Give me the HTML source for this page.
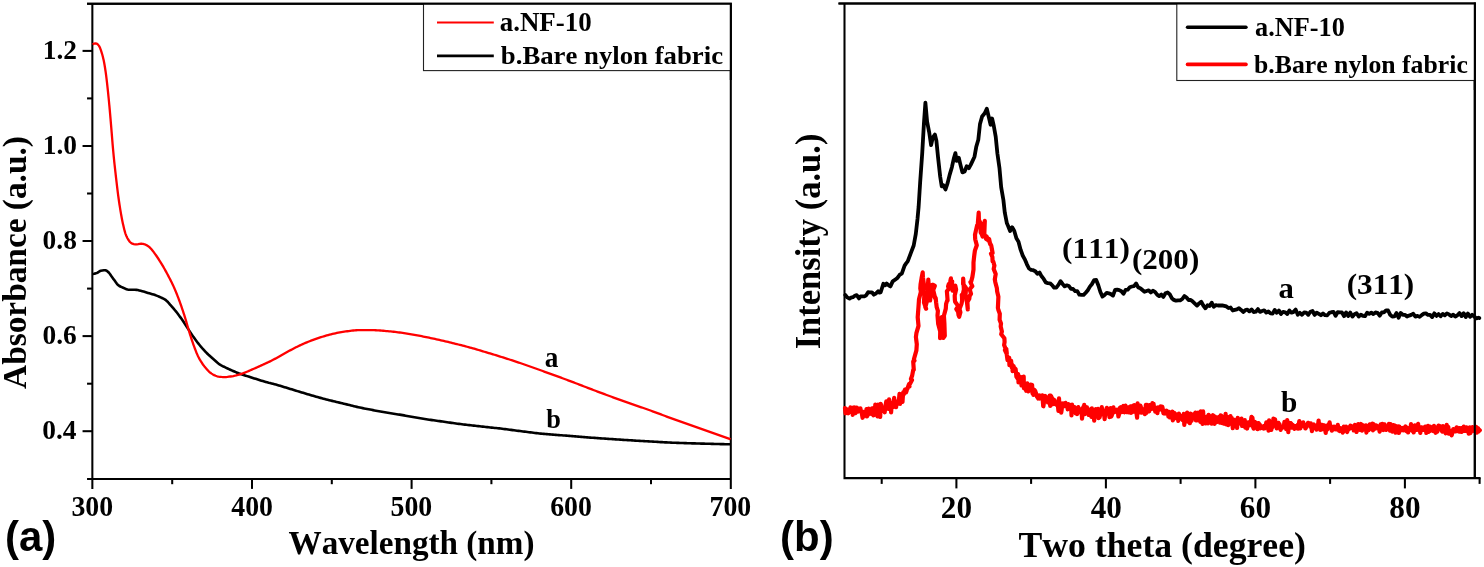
<!DOCTYPE html>
<html lang="en"><head><meta charset="utf-8"><title>UV-Vis and XRD of NF-10 and bare nylon fabric</title>
<style>html,body{margin:0;padding:0;background:#fff}body{width:1484px;height:567px;overflow:hidden}svg{display:block}</style></head>
<body>
<svg width="1484" height="567" viewBox="0 0 1484 567" style="font-kerning:none">
<rect width="1484" height="567" fill="#fff"/>
<g stroke="#000" stroke-width="2.05" fill="none">
<path d="M87.05,3.65 H731.8249999999999 M87.05,478.9 H730.8 M92.35,2.625 V488.9 M730.8,2.625 V488.9"/>
<path d="M82.55,431.2 H92.35"/>
<path d="M82.55,336.1 H92.35"/>
<path d="M82.55,241.0 H92.35"/>
<path d="M82.55,146.0 H92.35"/>
<path d="M82.55,50.9 H92.35"/>
<path d="M87.05,383.7 H92.35"/>
<path d="M87.05,288.6 H92.35"/>
<path d="M87.05,193.5 H92.35"/>
<path d="M87.05,98.4 H92.35"/>
<path d="M252.0,478.9 V488.9"/>
<path d="M411.6,478.9 V488.9"/>
<path d="M571.2,478.9 V488.9"/>
<path d="M172.2,478.9 V484.2"/>
<path d="M331.8,478.9 V484.2"/>
<path d="M491.4,478.9 V484.2"/>
<path d="M651.0,478.9 V484.2"/>
</g>
<path d="M92.60,274.00 L94.12,273.76 L95.58,273.38 L96.98,272.90 L98.31,272.25 L99.55,271.31 L100.87,270.74 L102.36,270.47 L103.91,270.27 L105.36,270.20 L106.68,270.67 L107.91,271.73 L108.99,272.79 L109.93,273.95 L110.80,275.20 L111.66,276.45 L112.54,277.67 L113.39,278.90 L114.26,280.12 L115.14,281.34 L116.01,282.61 L116.91,283.85 L117.89,284.93 L119.05,285.76 L120.38,286.49 L121.78,287.12 L123.17,287.72 L124.56,288.36 L125.97,289.01 L127.39,289.52 L128.84,289.79 L130.31,289.80 L131.81,289.80 L133.32,289.80 L134.83,289.80 L136.32,289.83 L137.80,290.04 L139.27,290.39 L140.73,290.79 L142.18,291.17 L143.63,291.56 L145.07,291.99 L146.50,292.44 L147.93,292.89 L149.37,293.32 L150.82,293.73 L152.26,294.15 L153.69,294.60 L155.11,295.08 L156.51,295.60 L157.91,296.15 L159.30,296.73 L160.66,297.34 L162.03,297.98 L163.40,298.64 L164.73,299.36 L165.93,300.18 L167.03,301.15 L168.06,302.25 L169.05,303.41 L170.04,304.57 L171.04,305.69 L172.04,306.81 L173.03,307.94 L174.01,309.07 L174.97,310.22 L175.92,311.39 L176.85,312.57 L177.76,313.75 L178.67,314.95 L179.56,316.16 L180.44,317.37 L181.31,318.59 L182.17,319.82 L183.01,321.06 L183.84,322.32 L184.65,323.58 L185.46,324.84 L186.27,326.10 L187.09,327.36 L187.91,328.62 L188.74,329.87 L189.56,331.12 L190.39,332.37 L191.22,333.63 L192.06,334.87 L192.90,336.11 L193.76,337.34 L194.63,338.56 L195.51,339.77 L196.41,340.98 L197.31,342.18 L198.23,343.37 L199.16,344.54 L200.11,345.71 L201.07,346.85 L202.04,347.99 L203.04,349.12 L204.05,350.23 L205.07,351.33 L206.11,352.41 L207.17,353.47 L208.25,354.51 L209.35,355.52 L210.47,356.52 L211.60,357.52 L212.73,358.50 L213.86,359.49 L214.98,360.51 L216.10,361.53 L217.23,362.53 L218.39,363.47 L219.59,364.33 L220.85,365.11 L222.15,365.84 L223.48,366.53 L224.84,367.19 L226.21,367.83 L227.58,368.46 L228.95,369.08 L230.31,369.72 L231.68,370.34 L233.05,370.96 L234.42,371.56 L235.80,372.15 L237.19,372.71 L238.59,373.26 L239.99,373.77 L241.41,374.27 L242.83,374.74 L244.26,375.21 L245.69,375.66 L247.12,376.12 L248.55,376.58 L249.98,377.04 L251.40,377.50 L252.83,377.95 L254.27,378.40 L255.70,378.85 L257.13,379.29 L258.56,379.74 L259.99,380.19 L261.42,380.64 L262.86,381.09 L264.29,381.53 L265.73,381.96 L267.17,382.36 L268.62,382.75 L270.08,383.10 L271.54,383.45 L272.99,383.81 L274.44,384.19 L275.89,384.59 L277.33,385.00 L278.77,385.43 L280.21,385.86 L281.64,386.29 L283.08,386.73 L284.51,387.17 L285.95,387.61 L287.38,388.05 L288.82,388.49 L290.25,388.92 L291.69,389.36 L293.12,389.80 L294.55,390.24 L295.99,390.68 L297.42,391.12 L298.86,391.56 L300.29,391.99 L301.73,392.43 L303.16,392.86 L304.60,393.29 L306.04,393.73 L307.47,394.16 L308.91,394.59 L310.35,395.02 L311.79,395.45 L313.23,395.87 L314.67,396.28 L316.11,396.69 L317.55,397.09 L319.00,397.49 L320.45,397.88 L321.90,398.26 L323.35,398.64 L324.80,399.02 L326.25,399.40 L327.71,399.77 L329.16,400.14 L330.62,400.50 L332.07,400.87 L333.53,401.22 L334.99,401.58 L336.44,401.93 L337.90,402.28 L339.36,402.63 L340.82,402.97 L342.28,403.32 L343.74,403.67 L345.20,404.02 L346.66,404.38 L348.11,404.74 L349.57,405.10 L351.02,405.46 L352.48,405.82 L353.94,406.18 L355.40,406.53 L356.86,406.87 L358.32,407.19 L359.79,407.51 L361.25,407.82 L362.72,408.12 L364.19,408.42 L365.66,408.71 L367.14,409.00 L368.61,409.28 L370.08,409.56 L371.56,409.84 L373.03,410.13 L374.50,410.41 L375.98,410.69 L377.45,410.97 L378.93,411.25 L380.40,411.52 L381.88,411.80 L383.35,412.06 L384.83,412.33 L386.31,412.58 L387.78,412.83 L389.27,413.07 L390.75,413.30 L392.23,413.53 L393.71,413.75 L395.20,413.97 L396.68,414.19 L398.16,414.42 L399.65,414.65 L401.13,414.89 L402.61,415.14 L404.08,415.39 L405.56,415.66 L407.04,415.92 L408.51,416.19 L409.99,416.46 L411.47,416.73 L412.94,416.99 L414.42,417.25 L415.90,417.50 L417.38,417.75 L418.86,418.00 L420.34,418.25 L421.82,418.49 L423.30,418.74 L424.78,418.98 L426.26,419.21 L427.74,419.45 L429.22,419.67 L430.71,419.90 L432.19,420.11 L433.67,420.33 L435.16,420.54 L436.64,420.74 L438.13,420.95 L439.62,421.16 L441.10,421.36 L442.59,421.57 L444.07,421.78 L445.56,421.99 L447.04,422.21 L448.53,422.43 L450.01,422.64 L451.50,422.86 L452.98,423.07 L454.47,423.28 L455.95,423.48 L457.44,423.68 L458.93,423.87 L460.41,424.06 L461.90,424.24 L463.39,424.42 L464.88,424.60 L466.37,424.78 L467.86,424.95 L469.35,425.13 L470.84,425.30 L472.33,425.47 L473.82,425.65 L475.31,425.82 L476.80,425.99 L478.29,426.16 L479.78,426.32 L481.27,426.49 L482.76,426.65 L484.26,426.82 L485.75,426.98 L487.24,427.14 L488.73,427.30 L490.22,427.46 L491.71,427.61 L493.21,427.77 L494.70,427.92 L496.19,428.08 L497.68,428.24 L499.17,428.41 L500.66,428.58 L502.15,428.76 L503.64,428.94 L505.13,429.13 L506.62,429.32 L508.10,429.51 L509.59,429.71 L511.08,429.90 L512.57,430.10 L514.05,430.29 L515.54,430.48 L517.03,430.67 L518.52,430.85 L520.01,431.04 L521.49,431.24 L522.98,431.43 L524.47,431.62 L525.96,431.81 L527.45,432.01 L528.93,432.20 L530.42,432.39 L531.91,432.57 L533.40,432.75 L534.89,432.93 L536.38,433.11 L537.87,433.28 L539.36,433.44 L540.85,433.60 L542.34,433.75 L543.84,433.89 L545.33,434.03 L546.82,434.16 L548.32,434.29 L549.81,434.41 L551.31,434.53 L552.80,434.65 L554.30,434.76 L555.79,434.88 L557.29,434.99 L558.79,435.10 L560.28,435.21 L561.78,435.32 L563.27,435.43 L564.77,435.54 L566.27,435.66 L567.76,435.77 L569.26,435.89 L570.75,436.01 L572.25,436.13 L573.74,436.25 L575.24,436.37 L576.73,436.49 L578.23,436.61 L579.72,436.74 L581.22,436.86 L582.71,436.98 L584.21,437.10 L585.70,437.22 L587.20,437.34 L588.69,437.46 L590.19,437.58 L591.69,437.69 L593.18,437.80 L594.68,437.92 L596.17,438.03 L597.67,438.14 L599.16,438.24 L600.66,438.35 L602.16,438.46 L603.65,438.56 L605.15,438.66 L606.65,438.77 L608.14,438.87 L609.64,438.97 L611.14,439.07 L612.63,439.17 L614.13,439.27 L615.63,439.37 L617.12,439.47 L618.62,439.56 L620.12,439.66 L621.61,439.76 L623.11,439.85 L624.61,439.95 L626.10,440.04 L627.60,440.14 L629.10,440.23 L630.60,440.32 L632.09,440.42 L633.59,440.51 L635.09,440.60 L636.58,440.69 L638.08,440.78 L639.58,440.87 L641.08,440.96 L642.57,441.05 L644.07,441.13 L645.57,441.22 L647.07,441.31 L648.56,441.39 L650.06,441.48 L651.56,441.56 L653.06,441.65 L654.55,441.74 L656.05,441.82 L657.55,441.91 L659.05,442.00 L660.55,442.08 L662.04,442.16 L663.54,442.25 L665.04,442.33 L666.54,442.41 L668.04,442.48 L669.53,442.55 L671.03,442.62 L672.53,442.69 L674.03,442.75 L675.53,442.81 L677.03,442.87 L678.52,442.92 L680.02,442.98 L681.52,443.03 L683.02,443.07 L684.52,443.12 L686.02,443.17 L687.52,443.21 L689.02,443.26 L690.52,443.30 L692.02,443.34 L693.52,443.38 L695.02,443.42 L696.52,443.46 L698.02,443.50 L699.52,443.54 L701.02,443.58 L702.51,443.62 L704.01,443.66 L705.51,443.70 L707.01,443.74 L708.51,443.78 L710.01,443.82 L711.51,443.86 L713.01,443.90 L714.51,443.93 L716.01,443.97 L717.51,444.01 L719.01,444.04 L720.51,444.08 L722.01,444.11 L723.51,444.15 L725.01,444.18 L726.51,444.21 L728.01,444.25 L729.51,444.28 L730.50,444.30" stroke="#000" stroke-width="2.6" fill="none" stroke-linejoin="round"/>
<path d="M92.60,44.40 L94.10,43.59 L95.49,43.31 L96.78,43.57 L98.01,44.63 L98.99,45.88 L99.70,47.12 L100.28,48.52 L100.79,49.98 L101.28,51.42 L101.74,52.85 L102.18,54.28 L102.59,55.73 L102.97,57.19 L103.31,58.64 L103.63,60.11 L103.93,61.57 L104.21,63.05 L104.48,64.53 L104.74,66.01 L104.98,67.49 L105.21,68.97 L105.44,70.45 L105.65,71.94 L105.86,73.42 L106.06,74.91 L106.25,76.40 L106.44,77.88 L106.62,79.37 L106.79,80.86 L106.97,82.36 L107.14,83.85 L107.30,85.34 L107.47,86.83 L107.63,88.32 L107.79,89.81 L107.95,91.30 L108.11,92.79 L108.26,94.29 L108.41,95.78 L108.56,97.27 L108.70,98.76 L108.85,100.26 L108.99,101.75 L109.13,103.24 L109.27,104.74 L109.41,106.23 L109.55,107.73 L109.68,109.22 L109.82,110.71 L109.95,112.21 L110.08,113.70 L110.21,115.20 L110.34,116.69 L110.47,118.18 L110.60,119.68 L110.72,121.17 L110.85,122.67 L110.97,124.16 L111.10,125.66 L111.22,127.15 L111.35,128.65 L111.47,130.14 L111.59,131.64 L111.72,133.13 L111.84,134.63 L111.96,136.12 L112.08,137.62 L112.20,139.11 L112.32,140.61 L112.44,142.10 L112.56,143.60 L112.69,145.09 L112.82,146.59 L112.95,148.08 L113.09,149.58 L113.23,151.07 L113.37,152.56 L113.51,154.06 L113.65,155.55 L113.80,157.04 L113.95,158.53 L114.10,160.03 L114.25,161.52 L114.41,163.01 L114.56,164.50 L114.72,165.99 L114.88,167.49 L115.04,168.98 L115.21,170.47 L115.38,171.96 L115.55,173.45 L115.72,174.94 L115.89,176.43 L116.06,177.92 L116.24,179.41 L116.41,180.90 L116.59,182.39 L116.76,183.88 L116.94,185.37 L117.12,186.86 L117.30,188.35 L117.48,189.84 L117.66,191.33 L117.85,192.81 L118.04,194.30 L118.24,195.79 L118.44,197.27 L118.65,198.76 L118.86,200.24 L119.07,201.73 L119.29,203.21 L119.52,204.70 L119.74,206.18 L119.98,207.66 L120.21,209.14 L120.46,210.62 L120.71,212.10 L120.96,213.58 L121.22,215.06 L121.49,216.53 L121.76,218.01 L122.05,219.48 L122.34,220.95 L122.65,222.42 L122.97,223.89 L123.30,225.35 L123.63,226.81 L123.98,228.28 L124.34,229.74 L124.72,231.20 L125.15,232.63 L125.62,234.04 L126.16,235.45 L126.76,236.86 L127.43,238.22 L128.18,239.50 L129.01,240.73 L129.99,241.98 L131.11,243.03 L132.33,243.68 L133.76,244.15 L135.29,244.45 L136.78,244.46 L138.26,244.21 L139.75,243.88 L141.23,243.70 L142.72,243.83 L144.20,244.22 L145.61,244.70 L146.95,245.36 L148.21,246.21 L149.37,247.14 L150.45,248.18 L151.48,249.30 L152.45,250.44 L153.38,251.62 L154.26,252.83 L155.14,254.05 L156.00,255.28 L156.86,256.51 L157.70,257.76 L158.53,259.01 L159.34,260.27 L160.15,261.53 L160.94,262.80 L161.72,264.08 L162.49,265.37 L163.24,266.67 L163.99,267.97 L164.73,269.28 L165.45,270.59 L166.17,271.91 L166.89,273.23 L167.59,274.55 L168.30,275.87 L169.00,277.20 L169.70,278.53 L170.39,279.86 L171.07,281.20 L171.74,282.55 L172.40,283.90 L173.04,285.25 L173.66,286.61 L174.27,287.98 L174.86,289.35 L175.44,290.74 L176.02,292.12 L176.58,293.51 L177.14,294.91 L177.68,296.31 L178.22,297.71 L178.75,299.12 L179.27,300.52 L179.79,301.93 L180.30,303.34 L180.81,304.75 L181.30,306.17 L181.79,307.58 L182.27,309.01 L182.75,310.43 L183.22,311.86 L183.68,313.28 L184.14,314.71 L184.59,316.14 L185.04,317.57 L185.48,319.01 L185.91,320.44 L186.33,321.88 L186.74,323.33 L187.16,324.77 L187.57,326.21 L187.98,327.65 L188.40,329.09 L188.83,330.53 L189.27,331.96 L189.72,333.39 L190.17,334.83 L190.63,336.26 L191.08,337.69 L191.55,339.11 L192.02,340.54 L192.50,341.96 L192.99,343.38 L193.49,344.79 L194.00,346.20 L194.53,347.60 L195.06,349.01 L195.60,350.42 L196.15,351.82 L196.72,353.22 L197.32,354.60 L197.94,355.96 L198.59,357.30 L199.28,358.61 L200.01,359.92 L200.78,361.21 L201.60,362.48 L202.45,363.74 L203.33,364.97 L204.24,366.16 L205.17,367.32 L206.13,368.46 L207.13,369.61 L208.18,370.74 L209.27,371.81 L210.41,372.79 L211.59,373.63 L212.85,374.39 L214.19,375.12 L215.60,375.77 L217.03,376.26 L218.47,376.56 L219.94,376.77 L221.44,376.94 L222.95,377.06 L224.45,377.10 L225.95,377.05 L227.44,376.92 L228.94,376.73 L230.43,376.51 L231.91,376.28 L233.38,376.03 L234.85,375.73 L236.31,375.37 L237.76,374.97 L239.21,374.55 L240.65,374.10 L242.07,373.65 L243.48,373.15 L244.87,372.61 L246.26,372.04 L247.64,371.44 L249.02,370.84 L250.40,370.23 L251.78,369.64 L253.16,369.05 L254.54,368.46 L255.91,367.87 L257.29,367.26 L258.66,366.66 L260.03,366.04 L261.39,365.42 L262.75,364.79 L264.12,364.16 L265.48,363.53 L266.83,362.89 L268.19,362.24 L269.54,361.59 L270.89,360.93 L272.23,360.26 L273.56,359.58 L274.89,358.89 L276.21,358.18 L277.52,357.45 L278.83,356.71 L280.13,355.96 L281.43,355.21 L282.73,354.46 L284.03,353.71 L285.34,352.97 L286.65,352.24 L287.96,351.53 L289.29,350.82 L290.61,350.12 L291.94,349.42 L293.27,348.72 L294.60,348.03 L295.94,347.34 L297.28,346.67 L298.63,346.01 L299.98,345.36 L301.34,344.73 L302.71,344.12 L304.08,343.52 L305.46,342.93 L306.84,342.36 L308.24,341.79 L309.63,341.23 L311.03,340.69 L312.44,340.16 L313.85,339.64 L315.26,339.13 L316.67,338.64 L318.09,338.16 L319.51,337.68 L320.94,337.20 L322.37,336.74 L323.80,336.29 L325.24,335.85 L326.68,335.43 L328.13,335.03 L329.57,334.65 L331.03,334.30 L332.48,333.95 L333.95,333.61 L335.41,333.28 L336.88,332.97 L338.35,332.67 L339.83,332.38 L341.31,332.12 L342.79,331.88 L344.27,331.66 L345.75,331.46 L347.24,331.25 L348.73,331.05 L350.22,330.85 L351.71,330.67 L353.21,330.51 L354.70,330.37 L356.20,330.27 L357.70,330.21 L359.19,330.20 L360.69,330.20 L362.19,330.20 L363.69,330.20 L365.19,330.20 L366.69,330.20 L368.19,330.20 L369.70,330.20 L371.20,330.20 L372.70,330.20 L374.19,330.21 L375.69,330.26 L377.19,330.33 L378.69,330.42 L380.19,330.52 L381.68,330.64 L383.18,330.77 L384.68,330.90 L386.17,331.03 L387.66,331.16 L389.16,331.29 L390.65,331.43 L392.14,331.59 L393.63,331.75 L395.13,331.93 L396.62,332.11 L398.10,332.30 L399.59,332.49 L401.08,332.68 L402.56,332.89 L404.05,333.10 L405.53,333.33 L407.01,333.57 L408.49,333.81 L409.97,334.06 L411.45,334.32 L412.93,334.58 L414.40,334.84 L415.88,335.10 L417.36,335.38 L418.83,335.66 L420.30,335.94 L421.77,336.23 L423.24,336.53 L424.71,336.83 L426.18,337.13 L427.65,337.44 L429.12,337.74 L430.59,338.05 L432.06,338.36 L433.52,338.67 L434.99,338.99 L436.45,339.31 L437.92,339.64 L439.38,339.96 L440.85,340.29 L442.31,340.63 L443.77,340.96 L445.23,341.30 L446.69,341.64 L448.15,341.99 L449.61,342.34 L451.07,342.69 L452.53,343.04 L453.98,343.40 L455.44,343.76 L456.90,344.12 L458.35,344.49 L459.80,344.86 L461.26,345.23 L462.71,345.60 L464.16,345.98 L465.62,346.36 L467.07,346.74 L468.51,347.13 L469.96,347.52 L471.41,347.92 L472.85,348.32 L474.29,348.73 L475.73,349.15 L477.17,349.58 L478.61,350.00 L480.05,350.43 L481.48,350.87 L482.92,351.30 L484.36,351.74 L485.79,352.17 L487.23,352.60 L488.67,353.03 L490.10,353.47 L491.54,353.90 L492.97,354.34 L494.41,354.77 L495.84,355.21 L497.28,355.65 L498.71,356.10 L500.14,356.54 L501.57,356.99 L503.00,357.44 L504.43,357.89 L505.86,358.34 L507.29,358.80 L508.72,359.26 L510.15,359.72 L511.58,360.18 L513.00,360.64 L514.43,361.11 L515.85,361.58 L517.27,362.06 L518.70,362.54 L520.11,363.02 L521.53,363.51 L522.95,364.00 L524.37,364.49 L525.78,364.99 L527.20,365.49 L528.61,365.99 L530.03,366.49 L531.44,366.99 L532.85,367.49 L534.27,368.00 L535.68,368.51 L537.09,369.01 L538.50,369.52 L539.91,370.03 L541.33,370.53 L542.74,371.04 L544.15,371.55 L545.56,372.06 L546.97,372.57 L548.38,373.08 L549.79,373.59 L551.20,374.10 L552.61,374.61 L554.02,375.12 L555.43,375.64 L556.84,376.15 L558.25,376.67 L559.66,377.19 L561.06,377.70 L562.47,378.22 L563.88,378.74 L565.28,379.27 L566.69,379.79 L568.10,380.31 L569.50,380.84 L570.90,381.36 L572.31,381.89 L573.71,382.43 L575.11,382.96 L576.51,383.50 L577.91,384.04 L579.31,384.57 L580.71,385.11 L582.11,385.65 L583.51,386.20 L584.91,386.74 L586.31,387.28 L587.71,387.82 L589.11,388.35 L590.51,388.89 L591.91,389.43 L593.31,389.96 L594.72,390.49 L596.12,391.02 L597.52,391.55 L598.93,392.08 L600.33,392.60 L601.74,393.13 L603.14,393.66 L604.55,394.18 L605.95,394.71 L607.36,395.23 L608.76,395.75 L610.17,396.27 L611.58,396.79 L612.99,397.31 L614.39,397.83 L615.80,398.35 L617.21,398.86 L618.62,399.37 L620.03,399.88 L621.44,400.39 L622.85,400.90 L624.27,401.40 L625.68,401.90 L627.10,402.40 L628.51,402.89 L629.93,403.38 L631.35,403.87 L632.77,404.36 L634.18,404.85 L635.60,405.34 L637.02,405.82 L638.44,406.31 L639.86,406.80 L641.28,407.29 L642.69,407.78 L644.11,408.27 L645.53,408.77 L646.94,409.27 L648.35,409.78 L649.76,410.28 L651.17,410.79 L652.58,411.31 L653.99,411.83 L655.40,412.35 L656.80,412.87 L658.21,413.39 L659.61,413.92 L661.02,414.44 L662.42,414.97 L663.83,415.50 L665.23,416.02 L666.64,416.55 L668.04,417.07 L669.45,417.59 L670.86,418.11 L672.26,418.63 L673.67,419.15 L675.08,419.66 L676.49,420.17 L677.91,420.67 L679.32,421.18 L680.73,421.68 L682.15,422.18 L683.56,422.68 L684.98,423.18 L686.39,423.67 L687.81,424.17 L689.22,424.67 L690.64,425.16 L692.06,425.66 L693.47,426.15 L694.89,426.64 L696.30,427.14 L697.72,427.64 L699.13,428.13 L700.55,428.63 L701.96,429.13 L703.38,429.63 L704.79,430.13 L706.21,430.63 L707.62,431.12 L709.04,431.62 L710.45,432.12 L711.87,432.62 L713.28,433.12 L714.70,433.62 L716.11,434.12 L717.52,434.62 L718.94,435.12 L720.35,435.62 L721.77,436.12 L723.18,436.62 L724.60,437.11 L726.01,437.61 L727.43,438.11 L728.84,438.61 L730.25,439.11 L730.50,439.20" stroke="#f00" stroke-width="2.3" fill="none" stroke-linejoin="round"/>
<rect x="423.5" y="3.65" width="307.29999999999995" height="66.94999999999999" fill="#fff" stroke="#222" stroke-width="1.1"/>
<path d="M87.05,3.65 H731.8249999999999 M730.8,2.625 V80" stroke="#000" stroke-width="2.05" fill="none"/>
<path d="M437,22.5 H493.8" stroke="#f00" stroke-width="2.2"/>
<path d="M437,55.9 H493.8" stroke="#000" stroke-width="2.6"/>
<text transform="translate(499.69,30.70) scale(0.9976,1)" font-size="27" font-family="Liberation Serif, serif" font-weight="bold" fill="#000">a.NF-10</text>
<text transform="translate(500.83,64.25) scale(1.0217,1)" font-size="26.2" font-family="Liberation Serif, serif" font-weight="bold" fill="#000">b.Bare nylon fabric</text>
<text transform="translate(42.20,439.10) scale(1.0000,1)" font-size="27.4" font-family="Liberation Serif, serif" font-weight="bold" fill="#000">0.4</text>
<text transform="translate(42.47,344.02) scale(1.0000,1)" font-size="27.4" font-family="Liberation Serif, serif" font-weight="bold" fill="#000">0.6</text>
<text transform="translate(42.61,248.94) scale(1.0000,1)" font-size="27.4" font-family="Liberation Serif, serif" font-weight="bold" fill="#000">0.8</text>
<text transform="translate(42.75,153.86) scale(1.0000,1)" font-size="27.4" font-family="Liberation Serif, serif" font-weight="bold" fill="#000">1.0</text>
<text transform="translate(42.75,58.78) scale(1.0000,1)" font-size="27.4" font-family="Liberation Serif, serif" font-weight="bold" fill="#000">1.2</text>
<text transform="translate(71.38,515.75) scale(0.9650,1)" font-size="28.8" font-family="Liberation Serif, serif" font-weight="bold" fill="#000">300</text>
<text transform="translate(231.27,515.75) scale(0.9650,1)" font-size="28.8" font-family="Liberation Serif, serif" font-weight="bold" fill="#000">400</text>
<text transform="translate(390.53,515.75) scale(0.9650,1)" font-size="28.8" font-family="Liberation Serif, serif" font-weight="bold" fill="#000">500</text>
<text transform="translate(550.21,515.75) scale(0.9650,1)" font-size="28.8" font-family="Liberation Serif, serif" font-weight="bold" fill="#000">600</text>
<text transform="translate(709.55,515.75) scale(0.9650,1)" font-size="28.8" font-family="Liberation Serif, serif" font-weight="bold" fill="#000">700</text>
<text transform="translate(288.50,553.50) scale(0.9876,1)" font-size="33.6" font-family="Liberation Serif, serif" font-weight="bold" fill="#000">Wavelength (nm)</text>
<text transform="translate(26.20,388.93) rotate(-90) scale(0.9642,1)" font-size="34.6" font-family="Liberation Serif, serif" font-weight="bold" fill="#000">Absorbance (a.u.)</text>
<text transform="translate(5.00,551.30) scale(0.9989,1)" font-size="42" font-family="Liberation Sans, sans-serif" font-weight="bold" fill="#000">(a)</text>
<text transform="translate(544.78,367.20) scale(0.9397,1)" font-size="29" font-family="Liberation Serif, serif" font-weight="bold" fill="#000">a</text>
<text transform="translate(546.24,427.90) scale(0.9577,1)" font-size="27.5" font-family="Liberation Serif, serif" font-weight="bold" fill="#000">b</text>
<g stroke="#000" stroke-width="2.05" fill="none">
<path d="M838.5,3.55 H1475.825 M843.475,478.1 H1480.6 M844.5,2.525 V479.125 M1474.8,2.525 V478.1"/>
<path d="M956.4,478.1 V488.40000000000003"/>
<path d="M1105.9,478.1 V488.40000000000003"/>
<path d="M1255.4,478.1 V488.40000000000003"/>
<path d="M1404.9,478.1 V488.40000000000003"/>
<path d="M881.7,478.1 V483.90000000000003"/>
<path d="M1031.1,478.1 V483.90000000000003"/>
<path d="M1180.6,478.1 V483.90000000000003"/>
<path d="M1330.1,478.1 V483.90000000000003"/>
<path d="M1479.6,478.1 V483.90000000000003"/>
</g>
<path d="M845.0,408.0 L845.5,413.3 L846.1,408.8 L846.6,409.4 L847.2,412.7 L847.7,410.8 L848.3,413.3 L848.9,410.6 L849.4,409.4 L849.9,409.0 L850.5,407.4 L851.1,411.2 L851.6,412.1 L852.1,408.6 L852.7,414.8 L853.2,407.6 L853.8,408.4 L854.3,407.4 L854.9,411.0 L855.5,413.2 L856.0,409.7 L856.6,407.6 L857.1,408.0 L857.8,411.6 L858.3,411.0 L858.8,408.7 L859.2,410.4 L859.9,409.4 L860.4,408.4 L861.0,411.8 L861.5,412.3 L862.0,414.3 L862.6,417.8 L863.2,411.8 L863.7,414.8 L864.2,415.8 L864.8,412.9 L865.3,415.7 L865.9,413.8 L866.5,409.0 L867.0,416.5 L867.5,411.9 L868.1,414.7 L868.7,408.7 L869.2,409.9 L869.7,411.1 L870.2,413.1 L870.9,412.9 L871.4,414.0 L872.0,408.3 L872.5,411.7 L873.1,413.7 L873.6,415.3 L874.3,407.5 L874.8,414.6 L875.3,404.5 L875.7,406.4 L876.3,413.2 L877.0,410.3 L877.5,416.3 L878.0,404.7 L878.6,411.7 L879.0,407.4 L879.6,410.6 L880.2,417.0 L880.7,403.8 L881.3,406.3 L881.9,408.9 L882.5,409.9 L883.0,410.7 L883.5,408.9 L884.0,409.7 L884.7,412.3 L885.1,407.7 L885.7,404.8 L886.3,401.3 L886.9,403.0 L887.3,403.5 L887.9,406.9 L888.5,408.8 L889.1,399.3 L889.7,406.5 L890.0,402.4 L890.7,403.2 L891.1,412.4 L891.8,403.2 L892.3,403.1 L892.8,407.1 L893.4,403.1 L894.2,397.9 L894.4,406.7 L894.9,402.1 L895.6,402.9 L896.1,407.2 L896.7,401.5 L897.2,404.2 L897.8,401.5 L898.6,400.6 L898.8,401.4 L899.5,393.9 L900.0,403.9 L900.7,401.0 L901.1,399.9 L901.4,401.1 L902.5,401.8 L902.7,398.6 L903.2,392.4 L903.9,394.3 L904.3,391.3 L905.0,389.7 L905.9,391.0 L906.0,392.5 L906.7,390.5 L906.8,388.9 L907.4,389.0 L908.2,386.4 L908.9,384.4 L909.5,386.4 L909.4,383.9 L910.0,383.9 L912.0,380.0 L910.9,378.9 L912.1,375.8 L913.3,369.6 L913.8,369.8 L913.2,361.6 L914.5,360.7 L913.9,359.2 L916.4,350.4 L916.8,344.2 L915.9,337.1 L916.4,333.2 L918.5,325.9 L917.7,317.2 L918.5,306.7 L919.0,299.3 L920.9,291.8 L920.3,288.3 L920.6,284.0 L921.6,278.0 L922.7,272.3 L922.9,277.2 L924.0,285.0 L923.5,288.4 L924.3,295.7 L924.0,302.5 L926.1,308.7 L925.3,307.1 L927.5,299.2 L927.1,294.9 L928.4,290.3 L927.7,289.5 L928.3,279.7 L928.8,287.0 L930.7,293.1 L930.1,300.5 L930.8,291.9 L932.0,286.7 L932.2,284.9 L932.4,287.6 L933.0,284.8 L934.8,285.9 L933.2,290.0 L935.2,298.3 L933.3,294.2 L935.7,298.0 L936.1,302.3 L936.7,307.2 L937.9,310.9 L937.5,315.4 L938.2,324.0 L940.2,331.5 L940.1,338.2 L940.7,329.5 L940.6,321.0 L941.7,317.2 L943.8,322.2 L942.2,326.4 L942.4,330.3 L943.4,337.9 L944.8,335.8 L944.4,323.3 L943.9,315.7 L945.8,308.6 L946.1,303.9 L947.4,299.8 L947.6,300.5 L946.9,291.3 L948.7,288.9 L948.1,286.3 L948.7,284.4 L950.5,282.1 L950.9,278.4 L950.4,280.6 L952.2,281.5 L951.9,284.1 L952.5,290.6 L953.4,286.9 L954.3,287.9 L955.3,285.7 L956.1,289.5 L954.7,295.6 L954.9,300.3 L955.1,301.7 L958.2,306.1 L956.3,309.1 L958.1,311.8 L958.5,315.0 L959.2,316.8 L960.4,312.2 L959.5,308.9 L961.6,303.4 L962.1,300.7 L962.0,296.8 L961.8,294.8 L962.9,293.9 L963.9,289.4 L963.2,278.6 L963.1,284.0 L965.6,287.2 L966.1,288.4 L965.5,295.2 L967.0,302.5 L967.8,309.5 L967.4,301.9 L969.3,298.7 L969.6,296.0 L971.0,293.9 L969.7,289.3 L972.3,286.1 L970.4,282.2 L971.2,281.5 L972.4,276.9 L973.5,269.6 L973.5,262.5 L974.3,255.1 L974.9,250.6 L976.8,245.3 L975.2,239.2 L975.0,234.7 L977.1,225.4 L979.2,222.1 L977.9,222.7 L978.7,212.7 L978.9,219.8 L980.3,222.7 L980.6,225.9 L980.7,232.4 L981.9,234.6 L982.6,236.7 L981.7,232.0 L982.5,226.8 L983.9,228.0 L983.9,225.5 L984.8,220.8 L984.3,234.0 L986.8,238.6 L986.1,239.0 L986.5,236.3 L987.5,239.2 L988.1,240.4 L988.4,239.8 L989.1,239.0 L990.2,244.2 L989.8,242.8 L991.2,245.4 L992.6,253.0 L991.0,253.7 L992.4,257.0 L992.6,261.3 L993.2,261.3 L994.4,265.6 L993.7,268.9 L995.7,274.0 L994.8,279.3 L995.3,282.2 L996.9,288.2 L997.1,291.2 L998.4,296.7 L997.9,307.9 L998.4,310.1 L999.8,313.8 L999.6,319.8 L1001.0,323.5 L1000.7,326.4 L1001.9,331.5 L1001.2,334.3 L1004.4,338.3 L1004.6,342.0 L1004.1,345.0 L1005.5,348.6 L1004.9,350.1 L1006.6,353.7 L1006.3,348.9 L1006.7,352.4 L1006.8,354.7 L1007.5,360.1 L1009.2,357.7 L1009.4,365.1 L1009.7,363.3 L1009.9,361.4 L1010.7,362.7 L1011.1,360.8 L1011.8,367.5 L1012.3,364.8 L1012.6,371.1 L1013.1,370.6 L1013.6,366.2 L1014.4,370.9 L1014.1,367.7 L1015.6,369.0 L1015.9,371.6 L1016.4,376.7 L1017.5,378.4 L1017.8,375.2 L1018.1,374.1 L1018.5,382.3 L1019.1,377.9 L1020.0,380.5 L1020.3,376.9 L1021.0,378.6 L1021.5,385.5 L1022.1,377.1 L1022.8,382.5 L1023.1,382.4 L1023.7,376.5 L1023.9,388.3 L1024.8,383.6 L1025.5,387.2 L1026.2,390.8 L1026.5,388.2 L1027.2,383.4 L1027.7,390.4 L1028.2,391.3 L1028.8,390.9 L1029.3,386.0 L1029.8,388.8 L1030.4,384.7 L1030.9,388.5 L1031.5,386.4 L1032.1,384.9 L1032.5,393.5 L1032.8,388.5 L1033.4,394.8 L1034.4,390.0 L1034.5,389.9 L1035.3,391.1 L1036.1,393.8 L1036.4,394.4 L1037.0,396.7 L1037.4,397.0 L1038.2,398.5 L1039.0,396.4 L1039.1,395.3 L1039.8,398.5 L1040.2,396.5 L1040.8,398.4 L1041.4,395.6 L1041.9,397.3 L1042.4,395.4 L1043.2,406.1 L1043.4,406.2 L1044.1,401.1 L1044.5,398.4 L1045.2,396.0 L1045.9,399.5 L1046.3,397.3 L1046.9,400.9 L1047.3,397.7 L1047.9,402.4 L1048.5,397.9 L1049.0,399.2 L1049.6,395.6 L1050.2,405.9 L1050.7,395.6 L1051.2,396.3 L1051.9,397.8 L1052.3,404.4 L1052.9,399.1 L1053.4,400.2 L1054.0,404.0 L1054.5,400.1 L1055.2,402.1 L1055.6,404.0 L1056.2,404.7 L1056.8,404.8 L1057.4,404.8 L1057.8,403.9 L1058.4,410.8 L1059.0,398.3 L1059.5,407.5 L1060.1,402.9 L1060.6,404.8 L1061.2,412.7 L1061.7,409.6 L1062.2,403.7 L1062.8,405.8 L1063.4,403.5 L1063.8,405.6 L1064.4,404.1 L1065.0,406.0 L1065.6,402.9 L1066.2,403.7 L1066.8,405.9 L1067.4,405.7 L1067.7,409.3 L1068.3,404.1 L1069.0,407.7 L1069.3,404.7 L1069.9,407.3 L1070.4,405.5 L1071.2,407.3 L1071.5,415.5 L1072.1,404.6 L1072.7,410.3 L1073.2,406.8 L1073.8,409.4 L1074.4,407.0 L1074.9,410.8 L1075.6,413.3 L1076.0,411.6 L1076.4,410.2 L1077.2,414.0 L1077.7,408.8 L1078.2,407.1 L1078.8,409.5 L1079.4,410.6 L1079.8,410.9 L1080.4,409.2 L1080.9,412.8 L1081.5,409.0 L1082.0,418.7 L1082.6,412.9 L1083.2,407.1 L1083.7,411.1 L1084.2,404.9 L1084.8,414.2 L1085.3,408.8 L1085.9,407.1 L1086.5,411.3 L1087.0,407.4 L1087.6,413.1 L1088.1,410.3 L1088.7,414.9 L1089.2,413.9 L1089.7,409.7 L1090.3,413.6 L1090.9,414.4 L1091.4,416.9 L1091.9,408.4 L1092.5,416.5 L1093.0,416.1 L1093.6,413.1 L1094.2,420.6 L1094.7,412.4 L1095.3,412.5 L1095.8,409.1 L1096.4,414.0 L1096.9,415.2 L1097.4,411.4 L1098.0,408.8 L1098.5,418.2 L1099.1,410.7 L1099.6,417.4 L1100.2,413.9 L1100.8,414.5 L1101.3,412.9 L1101.8,407.2 L1102.4,412.4 L1103.0,414.6 L1103.5,414.8 L1104.0,410.8 L1104.6,419.2 L1105.2,413.8 L1105.7,412.4 L1106.3,409.9 L1106.8,407.8 L1107.4,410.4 L1107.9,413.1 L1108.5,412.0 L1109.0,413.7 L1109.5,417.2 L1110.1,414.7 L1110.6,408.0 L1111.2,416.7 L1111.8,415.4 L1112.3,411.3 L1112.8,410.3 L1113.4,407.4 L1114.0,411.2 L1114.5,412.2 L1115.1,409.9 L1115.6,411.2 L1116.1,410.7 L1116.7,411.1 L1117.3,409.8 L1117.8,411.1 L1118.4,416.5 L1118.9,414.9 L1119.5,411.2 L1120.0,407.6 L1120.6,407.3 L1121.1,409.0 L1121.6,412.2 L1122.2,410.2 L1122.7,408.1 L1123.3,406.0 L1123.8,408.2 L1124.4,412.3 L1125.0,409.6 L1125.5,405.6 L1126.0,408.2 L1126.6,412.1 L1127.1,411.8 L1127.7,410.1 L1128.3,407.4 L1128.8,412.4 L1129.4,408.1 L1129.9,409.0 L1130.5,406.4 L1131.0,412.8 L1131.5,412.6 L1132.1,410.5 L1132.7,411.8 L1133.2,405.5 L1133.8,411.7 L1134.3,405.0 L1134.8,409.0 L1135.4,408.8 L1135.9,407.9 L1136.5,413.2 L1137.1,417.7 L1137.6,403.4 L1138.2,410.7 L1138.6,412.8 L1139.3,409.1 L1139.8,411.5 L1140.4,405.6 L1140.9,407.2 L1141.4,412.7 L1142.0,412.7 L1142.5,409.0 L1143.1,412.3 L1143.7,411.9 L1144.2,411.0 L1144.8,414.2 L1145.3,410.7 L1145.9,404.8 L1146.4,412.9 L1147.0,404.8 L1147.5,409.8 L1148.0,405.5 L1148.6,406.6 L1149.2,411.4 L1149.7,405.1 L1150.2,407.6 L1150.8,407.2 L1151.3,404.7 L1151.9,408.8 L1152.4,403.1 L1153.0,407.4 L1153.6,403.9 L1154.1,408.9 L1154.7,407.5 L1155.2,411.6 L1155.7,409.8 L1156.3,407.9 L1156.9,409.9 L1157.4,413.2 L1158.0,407.4 L1158.5,409.1 L1159.1,409.8 L1159.6,409.6 L1160.1,408.3 L1160.7,406.5 L1161.2,409.4 L1161.8,407.6 L1162.2,406.6 L1162.7,408.6 L1163.4,413.3 L1164.0,412.5 L1164.6,412.7 L1165.2,413.6 L1165.7,410.9 L1166.2,411.9 L1166.8,410.8 L1167.5,412.3 L1167.9,411.6 L1168.4,416.5 L1168.9,411.8 L1169.6,413.0 L1169.9,417.5 L1170.6,415.7 L1171.1,414.8 L1171.7,414.9 L1172.3,411.6 L1172.8,420.5 L1173.4,418.4 L1173.9,414.1 L1174.4,413.0 L1175.0,417.0 L1175.5,414.0 L1176.0,418.2 L1176.7,417.6 L1177.2,415.0 L1177.7,415.9 L1178.3,420.9 L1178.9,413.7 L1179.4,416.6 L1179.9,418.7 L1180.5,416.3 L1181.0,416.3 L1181.6,417.7 L1182.1,416.0 L1182.7,420.2 L1183.3,416.0 L1183.7,413.8 L1184.3,424.8 L1184.9,415.2 L1185.5,419.1 L1186.0,418.6 L1186.6,416.6 L1187.1,412.6 L1187.6,421.7 L1188.2,421.6 L1188.7,419.7 L1189.3,417.8 L1189.9,423.2 L1190.4,413.7 L1191.0,419.6 L1191.5,420.9 L1192.0,417.7 L1192.6,415.3 L1193.2,415.2 L1193.7,414.3 L1194.2,414.7 L1194.8,417.3 L1195.4,412.6 L1195.9,420.4 L1196.5,415.3 L1197.0,420.3 L1197.5,419.1 L1198.1,412.6 L1198.7,416.1 L1199.2,414.5 L1199.8,419.5 L1200.3,421.9 L1200.8,411.3 L1201.4,419.0 L1201.9,417.4 L1202.5,423.8 L1203.1,411.3 L1203.6,420.4 L1204.1,419.3 L1204.7,417.6 L1205.2,417.5 L1205.8,423.5 L1206.4,417.0 L1206.9,419.7 L1207.4,416.4 L1208.0,423.4 L1208.6,414.9 L1209.1,415.2 L1209.6,420.3 L1210.2,419.0 L1210.8,419.2 L1211.3,418.6 L1211.8,423.7 L1212.4,417.4 L1212.9,415.2 L1213.5,416.3 L1214.1,418.8 L1214.6,423.9 L1215.1,416.7 L1215.7,420.5 L1216.2,420.1 L1216.8,422.1 L1217.4,421.7 L1217.9,420.5 L1218.5,417.0 L1219.0,418.1 L1219.6,418.3 L1220.1,422.7 L1220.6,415.4 L1221.2,415.7 L1221.8,416.6 L1222.3,423.2 L1222.8,420.6 L1223.4,422.8 L1223.9,423.6 L1224.5,419.4 L1225.0,419.6 L1225.6,413.9 L1226.2,424.5 L1226.7,418.9 L1227.3,424.3 L1227.8,417.0 L1228.3,425.1 L1228.9,423.3 L1229.5,419.4 L1230.0,421.9 L1230.5,416.2 L1231.1,423.6 L1231.7,417.9 L1232.2,421.3 L1232.8,428.2 L1233.3,419.8 L1233.8,422.3 L1234.4,419.9 L1234.9,424.5 L1235.5,424.3 L1236.1,425.3 L1236.6,420.1 L1237.1,428.0 L1237.7,417.9 L1238.3,421.7 L1238.8,423.7 L1239.4,421.0 L1239.9,422.7 L1240.5,421.7 L1241.0,422.3 L1241.5,418.6 L1242.1,426.0 L1242.7,425.1 L1243.2,424.0 L1243.8,424.4 L1244.3,424.2 L1244.8,420.2 L1245.3,427.7 L1246.0,423.7 L1246.5,426.2 L1247.1,428.5 L1247.6,423.9 L1248.1,422.3 L1248.7,425.2 L1249.3,425.4 L1249.8,422.9 L1250.3,425.2 L1250.9,421.0 L1251.5,416.8 L1252.0,424.1 L1252.5,417.9 L1253.1,427.2 L1253.6,428.7 L1254.2,425.5 L1254.7,421.9 L1255.3,427.3 L1255.8,423.3 L1256.4,426.2 L1257.0,423.0 L1257.4,429.1 L1258.1,426.4 L1258.6,423.0 L1259.2,425.3 L1259.7,424.3 L1260.2,428.4 L1260.8,426.1 L1261.3,427.0 L1261.9,427.9 L1262.5,426.7 L1263.0,426.5 L1263.6,428.5 L1264.1,426.1 L1264.6,428.4 L1265.2,425.9 L1265.8,424.8 L1266.3,422.3 L1266.8,424.8 L1267.4,424.5 L1268.0,423.7 L1268.5,430.7 L1269.1,420.3 L1269.6,425.1 L1270.2,422.9 L1270.7,425.3 L1271.3,429.9 L1271.8,426.8 L1272.3,427.4 L1272.9,424.5 L1273.4,418.7 L1274.0,421.7 L1274.6,421.7 L1275.1,419.4 L1275.7,425.7 L1276.2,425.5 L1276.7,428.4 L1277.3,426.1 L1277.9,424.3 L1278.4,422.8 L1278.9,425.4 L1279.5,424.1 L1280.1,426.8 L1280.6,429.9 L1281.1,427.1 L1281.7,427.5 L1282.2,427.8 L1282.8,426.6 L1283.3,426.9 L1283.9,425.9 L1284.4,421.9 L1285.0,422.5 L1285.6,425.3 L1286.1,429.1 L1286.6,424.5 L1287.2,420.1 L1287.8,422.7 L1288.3,432.1 L1288.8,423.1 L1289.4,427.0 L1289.9,426.6 L1290.5,423.0 L1291.1,423.3 L1291.6,427.7 L1292.2,424.6 L1292.7,425.0 L1293.2,427.5 L1293.8,426.2 L1294.4,428.9 L1294.9,426.0 L1295.4,427.2 L1296.0,426.1 L1296.6,428.1 L1297.1,428.3 L1297.7,424.9 L1298.2,428.7 L1298.8,424.4 L1299.3,421.0 L1299.9,426.9 L1300.4,428.3 L1300.9,425.9 L1301.5,424.8 L1302.0,425.5 L1302.6,425.8 L1303.2,422.3 L1303.7,424.7 L1304.2,424.5 L1304.8,425.3 L1305.3,428.5 L1305.9,427.9 L1306.4,425.3 L1307.0,424.6 L1307.6,424.2 L1308.1,422.8 L1308.6,423.5 L1309.2,425.1 L1309.8,424.4 L1310.3,426.7 L1310.8,423.3 L1311.4,426.8 L1311.9,431.1 L1312.5,426.8 L1313.1,424.8 L1313.6,424.5 L1314.2,427.9 L1314.7,427.7 L1315.3,426.5 L1315.8,426.2 L1316.4,429.7 L1316.9,425.0 L1317.5,425.5 L1318.0,425.5 L1318.6,420.5 L1319.1,426.3 L1319.6,423.7 L1320.2,429.9 L1320.8,426.2 L1321.3,429.6 L1321.8,426.7 L1322.4,424.9 L1322.9,427.4 L1323.5,427.3 L1324.0,425.3 L1324.6,429.5 L1325.2,430.1 L1325.7,433.0 L1326.2,425.9 L1326.8,430.0 L1327.3,429.4 L1327.9,426.9 L1328.5,424.4 L1329.0,426.6 L1329.6,422.3 L1330.1,425.5 L1330.6,426.7 L1331.2,427.4 L1331.8,430.6 L1332.3,427.3 L1332.9,429.8 L1333.4,426.7 L1333.9,427.6 L1334.5,426.7 L1335.1,427.7 L1335.6,427.4 L1336.1,429.4 L1336.7,427.6 L1337.2,428.3 L1337.8,424.8 L1338.4,428.2 L1338.9,430.5 L1339.4,429.1 L1340.0,431.1 L1340.5,429.6 L1341.1,428.3 L1341.7,429.1 L1342.2,428.5 L1342.7,432.6 L1343.3,431.7 L1343.8,426.7 L1344.4,428.8 L1345.0,429.3 L1345.5,427.0 L1346.1,426.6 L1346.6,430.3 L1347.2,432.1 L1347.7,428.1 L1348.2,429.6 L1348.8,429.3 L1349.3,428.7 L1349.9,426.6 L1350.4,425.7 L1351.0,427.8 L1351.5,427.0 L1352.1,427.1 L1352.7,426.9 L1353.2,426.3 L1353.7,430.5 L1354.3,426.5 L1354.9,425.0 L1355.4,425.7 L1355.9,425.8 L1356.5,432.0 L1357.0,429.4 L1357.6,428.4 L1358.2,424.1 L1358.7,428.0 L1359.2,425.6 L1359.8,430.0 L1360.4,425.7 L1360.9,423.9 L1361.4,427.2 L1362.0,430.6 L1362.6,428.4 L1363.1,425.2 L1363.7,429.5 L1364.2,429.0 L1364.7,428.3 L1365.3,429.1 L1365.9,425.3 L1366.4,432.6 L1367.0,427.8 L1367.5,427.0 L1368.0,426.7 L1368.6,430.1 L1369.1,426.9 L1369.7,424.4 L1370.3,425.4 L1370.8,426.5 L1371.4,428.8 L1371.9,429.1 L1372.4,423.6 L1373.0,430.3 L1373.6,424.1 L1374.1,425.6 L1374.7,428.6 L1375.2,428.7 L1375.7,427.0 L1376.3,425.5 L1376.8,427.4 L1377.4,427.6 L1378.0,426.3 L1378.5,427.1 L1379.1,429.1 L1379.6,431.6 L1380.1,429.7 L1380.7,424.3 L1381.3,428.5 L1381.8,429.2 L1382.3,423.9 L1382.9,427.6 L1383.4,430.0 L1384.0,425.7 L1384.5,424.3 L1385.1,429.0 L1385.7,428.3 L1386.2,429.9 L1386.8,427.1 L1387.3,428.1 L1387.9,428.0 L1388.4,427.1 L1388.9,423.8 L1389.5,429.3 L1390.0,430.7 L1390.6,424.1 L1391.2,427.3 L1391.7,427.7 L1392.3,431.7 L1392.8,426.9 L1393.4,425.1 L1393.9,430.7 L1394.4,426.2 L1395.0,425.8 L1395.6,432.7 L1396.1,431.8 L1396.7,426.3 L1397.2,429.2 L1397.7,427.6 L1398.3,426.4 L1398.9,433.0 L1399.4,426.5 L1400.0,430.5 L1400.5,427.7 L1401.1,430.0 L1401.6,430.3 L1402.1,428.3 L1402.7,428.0 L1403.3,427.9 L1403.8,430.4 L1404.3,428.2 L1404.9,428.5 L1405.5,426.4 L1406.0,427.0 L1406.6,431.3 L1407.1,429.9 L1407.7,428.1 L1408.2,432.5 L1408.7,429.2 L1409.3,429.9 L1409.8,429.0 L1410.4,429.7 L1411.0,424.1 L1411.5,427.0 L1412.0,426.0 L1412.6,430.9 L1413.1,426.8 L1413.7,432.5 L1414.2,429.2 L1414.8,425.4 L1415.4,425.7 L1415.9,428.5 L1416.4,425.3 L1417.0,429.9 L1417.5,425.7 L1418.1,423.8 L1418.6,428.7 L1419.2,427.3 L1419.8,429.2 L1420.3,432.9 L1420.9,427.4 L1421.4,429.2 L1422.0,427.4 L1422.5,427.6 L1423.0,428.7 L1423.6,429.9 L1424.2,427.5 L1424.7,429.5 L1425.2,426.6 L1425.8,427.3 L1426.3,433.0 L1426.9,428.1 L1427.4,429.5 L1428.0,425.8 L1428.6,432.0 L1429.1,428.3 L1429.6,431.2 L1430.2,427.9 L1430.7,426.8 L1431.3,427.3 L1431.9,429.2 L1432.4,429.9 L1433.0,431.0 L1433.5,431.1 L1434.0,425.9 L1434.6,429.3 L1435.2,429.7 L1435.7,432.8 L1436.2,427.5 L1436.8,431.0 L1437.3,431.6 L1437.9,428.0 L1438.5,425.6 L1439.0,427.7 L1439.6,426.0 L1440.1,426.0 L1440.7,428.7 L1441.2,429.8 L1441.7,430.6 L1442.3,431.6 L1442.9,426.2 L1443.4,431.4 L1443.9,430.6 L1444.5,429.3 L1445.0,431.7 L1445.6,433.3 L1446.2,430.3 L1446.7,424.9 L1447.3,429.4 L1447.8,427.6 L1448.3,427.1 L1448.9,433.7 L1449.4,431.5 L1450.0,432.0 L1450.6,431.6 L1451.1,431.0 L1451.7,435.4 L1452.2,433.2 L1452.8,431.8 L1453.3,429.1 L1453.9,431.4 L1454.4,429.5 L1454.9,430.9 L1455.5,431.4 L1456.1,429.2 L1456.6,427.4 L1457.1,427.5 L1457.7,431.0 L1458.2,431.3 L1458.8,431.5 L1459.4,428.0 L1459.9,431.6 L1460.5,430.2 L1461.0,428.1 L1461.5,432.0 L1462.1,430.5 L1462.6,431.3 L1463.2,429.0 L1463.7,426.6 L1464.3,431.0 L1464.9,427.7 L1465.4,428.0 L1465.9,430.9 L1466.5,427.3 L1467.1,429.3 L1467.6,430.4 L1468.2,430.6 L1468.7,433.7 L1469.2,433.0 L1469.8,427.3 L1470.4,433.2 L1470.9,431.7 L1471.5,429.5 L1472.0,431.1 L1472.5,427.1 L1473.1,429.9 L1473.6,430.3 L1474.2,430.9 L1474.7,430.6 L1475.3,427.3 L1475.9,428.7 L1476.4,426.9 L1476.9,432.7 L1477.5,429.5 L1478.1,428.1 L1478.6,431.5 L1479.2,429.7 L1479.7,430.2 L1479.8,430.3" stroke="#f00" stroke-width="4.2" fill="none" stroke-linejoin="round" stroke-linecap="round"/>
<path d="M845.3,295.0 L847.2,297.4 L849.5,298.6 L851.0,297.6 L852.9,297.2 L854.8,295.8 L856.7,295.1 L859.0,298.4 L860.5,296.4 L862.4,296.4 L864.3,296.4 L866.2,295.3 L868.1,292.2 L869.6,292.3 L871.9,292.3 L873.9,294.7 L875.7,293.7 L878.1,291.2 L879.5,292.7 L880.6,292.5 L883.4,283.7 L885.2,285.2 L886.6,283.5 L889.0,285.6 L890.4,286.4 L892.8,281.1 L894.0,280.5 L897.1,278.2 L898.5,276.5 L899.7,274.7 L901.8,273.6 L904.6,265.6 L906.1,263.4 L907.7,261.4 L910.9,252.9 L913.7,245.5 L915.8,233.9 L917.5,219.0 L918.6,207.0 L920.1,183.1 L922.2,153.5 L923.9,123.9 L925.4,102.6 L927.1,121.7 L929.2,132.3 L931.1,145.1 L932.8,137.6 L934.9,134.5 L936.4,140.8 L938.1,157.7 L940.2,176.8 L941.7,186.3 L943.4,185.2 L945.5,189.5 L947.6,183.1 L949.7,174.6 L951.9,167.2 L954.0,157.7 L955.4,153.1 L956.7,160.9 L958.8,157.8 L960.3,164.1 L962.4,172.4 L964.6,171.5 L966.7,166.2 L968.8,168.2 L970.7,164.9 L972.0,162.1 L974.5,156.7 L976.2,147.1 L978.3,139.7 L980.0,123.9 L982.1,116.5 L984.7,113.3 L986.8,108.7 L988.9,117.5 L990.6,124.7 L992.1,118.5 L993.8,126.0 L995.7,136.6 L997.4,153.5 L999.5,168.3 L1001.2,187.4 L1003.4,200.0 L1004.8,212.7 L1006.9,223.3 L1008.0,225.7 L1010.1,231.0 L1012.2,227.3 L1014.3,230.9 L1016.4,238.3 L1018.5,241.7 L1020.6,249.7 L1022.7,255.5 L1024.8,259.3 L1026.9,264.3 L1029.0,268.5 L1031.1,269.8 L1033.2,270.2 L1035.3,271.2 L1037.4,273.8 L1039.5,272.5 L1041.6,276.3 L1043.7,278.9 L1045.8,282.4 L1047.9,283.2 L1050.0,283.3 L1052.1,285.1 L1054.2,287.7 L1056.3,287.6 L1058.4,284.9 L1060.5,281.2 L1062.6,284.0 L1064.7,286.4 L1066.8,285.3 L1068.9,286.0 L1071.0,288.9 L1073.1,289.0 L1075.2,291.2 L1077.3,291.1 L1079.4,294.7 L1081.5,294.9 L1083.6,294.9 L1085.7,292.7 L1087.8,290.2 L1089.9,286.6 L1092.0,284.0 L1094.1,280.1 L1096.2,280.0 L1098.3,285.2 L1100.4,292.0 L1102.5,296.6 L1104.6,295.0 L1106.7,292.8 L1108.8,293.3 L1110.9,294.1 L1113.0,295.6 L1115.1,289.9 L1117.2,289.6 L1119.3,290.1 L1121.4,291.2 L1123.5,293.7 L1125.6,290.0 L1127.7,289.7 L1129.8,287.3 L1131.9,286.5 L1134.0,286.1 L1136.1,283.5 L1138.2,287.4 L1140.3,288.2 L1142.4,290.0 L1144.5,291.8 L1146.6,291.0 L1148.7,290.3 L1150.8,292.4 L1152.9,290.8 L1155.0,291.9 L1157.1,294.6 L1159.2,296.1 L1161.3,294.6 L1163.4,296.9 L1165.5,293.3 L1167.6,292.5 L1169.7,294.2 L1171.8,298.2 L1173.9,299.9 L1176.0,300.7 L1178.1,300.3 L1180.2,300.4 L1182.3,299.0 L1184.4,296.0 L1186.5,297.5 L1188.6,300.0 L1190.7,299.9 L1192.8,301.6 L1194.9,303.6 L1197.0,305.6 L1199.1,303.4 L1201.2,301.7 L1203.3,305.5 L1205.4,308.3 L1207.5,305.3 L1209.6,306.0 L1211.7,302.7 L1213.8,306.8 L1215.9,305.1 L1218.0,305.5 L1220.1,305.5 L1222.2,305.3 L1224.3,305.8 L1226.4,306.4 L1228.5,308.0 L1230.6,307.5 L1232.7,310.5 L1234.8,309.9 L1236.9,309.4 L1239.0,308.2 L1241.1,309.9 L1243.2,312.0 L1245.3,310.2 L1247.4,309.7 L1249.5,311.4 L1251.6,309.5 L1253.7,312.0 L1255.8,311.7 L1257.9,309.1 L1260.0,311.9 L1262.1,311.0 L1264.2,310.3 L1266.3,312.6 L1268.4,311.5 L1270.5,313.4 L1272.6,313.6 L1274.7,310.0 L1276.8,312.8 L1278.9,310.5 L1281.0,314.0 L1283.1,311.8 L1285.2,312.3 L1287.3,314.1 L1289.4,310.5 L1291.5,312.7 L1293.6,311.9 L1295.7,309.6 L1297.8,314.7 L1299.9,312.8 L1302.0,314.8 L1304.1,312.4 L1306.2,312.7 L1308.3,314.8 L1310.4,311.7 L1312.5,311.0 L1314.6,314.9 L1316.7,312.6 L1318.8,313.9 L1320.9,315.2 L1323.0,313.5 L1325.1,315.2 L1327.2,315.4 L1329.3,312.9 L1331.4,312.2 L1333.5,311.9 L1335.6,315.8 L1337.7,312.1 L1339.8,312.4 L1341.9,312.3 L1344.0,316.2 L1346.1,312.5 L1348.2,316.0 L1350.3,312.6 L1352.4,316.6 L1354.5,314.3 L1356.6,313.2 L1358.7,316.6 L1360.8,314.7 L1362.9,315.8 L1365.0,316.2 L1367.1,312.7 L1369.2,313.9 L1371.3,312.7 L1373.4,314.1 L1375.5,312.5 L1377.6,312.8 L1379.7,315.7 L1381.8,312.5 L1383.9,312.4 L1386.0,310.5 L1388.1,310.5 L1390.2,314.8 L1392.3,316.6 L1394.4,316.4 L1396.5,313.0 L1398.6,317.8 L1400.7,313.0 L1402.8,314.8 L1404.9,314.8 L1407.0,316.5 L1409.1,315.6 L1411.2,314.9 L1413.3,313.8 L1415.4,316.6 L1417.5,315.9 L1419.6,316.9 L1421.7,315.1 L1423.8,313.7 L1425.9,313.3 L1428.0,314.9 L1430.1,314.9 L1432.2,317.1 L1434.3,313.3 L1436.4,315.9 L1438.5,314.1 L1440.6,316.3 L1442.7,313.9 L1444.8,315.3 L1446.9,313.4 L1449.0,314.4 L1451.1,316.1 L1453.2,314.7 L1455.3,316.5 L1457.4,315.3 L1459.5,313.1 L1461.6,316.1 L1463.7,313.2 L1465.8,317.0 L1467.9,313.6 L1470.0,316.8 L1472.1,314.8 L1474.2,316.5 L1476.3,318.4 L1478.4,317.7 L1479.3,318.1" stroke="#000" stroke-width="3.8" fill="none" stroke-linejoin="round" stroke-linecap="round"/>
<path d="M1474.8,2.525 V478.1" stroke="#000" stroke-width="2.05"/>
<rect x="1176.8" y="3.55" width="298.0" height="76.95" fill="#fff" stroke="#222" stroke-width="1.1"/>
<path d="M838.5,3.55 H1475.825 M1474.8,2.525 V90" stroke="#000" stroke-width="2.05" fill="none"/>
<path d="M1187.5,27.3 H1246" stroke="#000" stroke-width="3.4" stroke-linecap="round"/>
<path d="M1187.5,64.4 H1246" stroke="#f00" stroke-width="3.6" stroke-linecap="round"/>
<text transform="translate(1255.11,35.70) scale(0.9992,1)" font-size="26.3" font-family="Liberation Serif, serif" font-weight="bold" fill="#000">a.NF-10</text>
<text transform="translate(1254.04,73.00) scale(1.0384,1)" font-size="24.8" font-family="Liberation Serif, serif" font-weight="bold" fill="#000">b.Bare nylon fabric</text>
<text transform="translate(940.80,518.10) scale(1.0000,1)" font-size="31.2" font-family="Liberation Serif, serif" font-weight="bold" fill="#000">20</text>
<text transform="translate(1090.68,518.10) scale(1.0000,1)" font-size="31.2" font-family="Liberation Serif, serif" font-weight="bold" fill="#000">40</text>
<text transform="translate(1239.86,518.10) scale(1.0000,1)" font-size="31.2" font-family="Liberation Serif, serif" font-weight="bold" fill="#000">60</text>
<text transform="translate(1389.35,518.10) scale(1.0000,1)" font-size="31.2" font-family="Liberation Serif, serif" font-weight="bold" fill="#000">80</text>
<text transform="translate(1018.46,557.00) scale(1.0032,1)" font-size="35.6" font-family="Liberation Serif, serif" font-weight="bold" fill="#000">Two theta (degree)</text>
<text transform="translate(819.60,349.31) rotate(-90) scale(0.9641,1)" font-size="35.8" font-family="Liberation Serif, serif" font-weight="bold" fill="#000">Intensity (a.u.)</text>
<text transform="translate(780.10,551.30) scale(0.9988,1)" font-size="42" font-family="Liberation Sans, sans-serif" font-weight="bold" fill="#000">(b)</text>
<text transform="translate(1062.09,258.30) scale(1.0449,1)" font-size="30" font-family="Liberation Serif, serif" font-weight="bold" fill="#000">(111)</text>
<text transform="translate(1131.90,268.90) scale(1.0369,1)" font-size="30" font-family="Liberation Serif, serif" font-weight="bold" fill="#000">(200)</text>
<text transform="translate(1346.70,293.60) scale(1.0401,1)" font-size="30" font-family="Liberation Serif, serif" font-weight="bold" fill="#000">(311)</text>
<text transform="translate(1278.58,297.50) scale(1.0256,1)" font-size="30" font-family="Liberation Serif, serif" font-weight="bold" fill="#000">a</text>
<text transform="translate(1281.11,411.80) scale(1.0106,1)" font-size="29" font-family="Liberation Serif, serif" font-weight="bold" fill="#000">b</text>
</svg>
</body></html>
